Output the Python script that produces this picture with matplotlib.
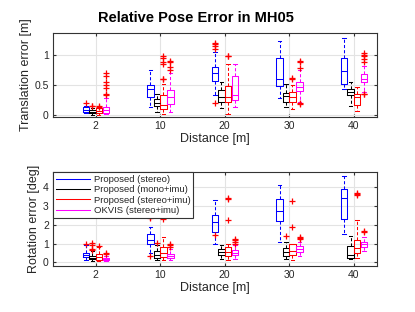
import matplotlib
matplotlib.use("Agg")
import matplotlib.pyplot as plt
import numpy as np

plt.rcParams['font.family'] = ['Liberation Sans', 'DejaVu Sans']
plt.rcParams['text.color'] = '#262626'
plt.rcParams['axes.labelcolor'] = '#262626'
plt.rcParams['xtick.labelcolor'] = '#262626'
plt.rcParams['ytick.labelcolor'] = '#262626'

distances = ["2", "10", "20", "30", "40"]
methods = ["Proposed (stereo)", "Proposed (mono+imu)", "Proposed (stereo+imu)", "OKVIS (stereo+imu)"]
colors = ["#0000ff", "#000000", "#ff0000", "#ff00ff"]

# translation error [m]: per method, per distance
trans_q1 = [[0.06, 0.31, 0.57, 0.48, 0.52],
            [0.04, 0.15, 0.22, 0.22, 0.33],
            [0.04, 0.10, 0.22, 0.22, 0.17],
            [0.04, 0.19, 0.25, 0.40, 0.55]]
trans_med = [[0.09, 0.43, 0.70, 0.60, 0.74],
             [0.06, 0.20, 0.30, 0.32, 0.39],
             [0.07, 0.17, 0.30, 0.30, 0.31],
             [0.09, 0.31, 0.33, 0.47, 0.60]]
trans_q3 = [[0.13, 0.50, 0.80, 0.96, 0.96],
            [0.08, 0.27, 0.42, 0.37, 0.44],
            [0.12, 0.33, 0.48, 0.38, 0.35],
            [0.14, 0.42, 0.66, 0.55, 0.68]]
trans_lo = [[0.04, 0.14, 0.33, 0.28, 0.44],
            [0.01, 0.05, 0.12, 0.14, 0.16],
            [0.01, 0.02, 0.02, 0.10, 0.07],
            [0.02, 0.06, 0.14, 0.22, 0.38]]
trans_hi = [[0.15, 0.75, 1.05, 1.24, 1.28],
            [0.12, 0.35, 0.55, 0.52, 0.56],
            [0.16, 0.52, 0.85, 0.50, 0.47],
            [0.28, 0.70, 0.86, 0.75, 0.82]]
trans_out = [[[0.21], [], [0.21, 1.10, 1.15, 1.18, 1.20], [], []],
             [[0.15, 0.16], [], [], [], []],
             [[0.14, 0.16], [0.60, 0.61, 0.85, 0.88, 0.95, 0.98], [0.98, 0.99], [0.61, 0.62], []],
             [[0.33, 0.35, 0.45, 0.50, 0.55, 0.65, 0.70], [0.75, 0.80, 0.88, 0.90], [],
              [0.18, 0.20, 0.78, 0.88, 0.90], [0.35, 0.36, 0.88, 0.93, 0.98, 1.00, 1.03]]]

# rotation error [deg]
rot_q1 = [[0.27, 1.00, 1.60, 2.20, 2.30],
          [0.18, 0.25, 0.40, 0.35, 0.25],
          [0.12, 0.30, 0.35, 0.40, 0.50],
          [0.10, 0.22, 0.40, 0.55, 0.80]]
rot_med = [[0.37, 1.20, 2.15, 2.75, 3.45],
           [0.25, 0.40, 0.55, 0.55, 0.40],
           [0.30, 0.50, 0.55, 0.60, 0.75],
           [0.17, 0.35, 0.50, 0.70, 0.95]]
rot_q3 = [[0.52, 1.50, 2.50, 3.40, 3.90],
          [0.35, 0.60, 0.70, 0.75, 0.85],
          [0.45, 0.80, 0.80, 0.95, 1.20],
          [0.22, 0.45, 0.65, 0.85, 1.10]]
rot_lo = [[0.10, 0.50, 0.95, 1.10, 1.50],
          [0.05, 0.10, 0.15, 0.15, 0.15],
          [0.05, 0.10, 0.10, 0.10, 0.25],
          [0.05, 0.10, 0.15, 0.35, 0.60]]
rot_hi = [[0.90, 1.90, 3.30, 4.15, 4.60],
          [0.60, 0.90, 0.90, 1.10, 1.40],
          [0.80, 1.35, 1.00, 1.00, 2.25],
          [0.35, 0.70, 0.90, 1.10, 1.35]]
rot_out = [[[1.00], [0.35, 2.35, 2.40], [1.45], [], []],
           [[0.65, 0.70, 0.90, 1.05], [1.05], [], [1.40], []],
           [[0.85], [2.30], [2.25, 3.40, 3.45], [1.90, 3.25], [3.60, 3.65, 3.70]],
           [[0.45, 0.50], [0.80, 0.90, 0.95], [1.00, 1.10, 1.20, 1.25], [1.25, 1.30, 1.35], [1.60, 1.65]]]

offsets = [-0.15, -0.05, 0.05, 0.16]
width = 0.1
LW = 0.75


def draw(ax, q1, med, q3, lo, hi, out):
    for m in range(4):
        stats = []
        for g in range(5):
            stats.append(dict(q1=q1[m][g], med=med[m][g], q3=q3[m][g],
                              whislo=lo[m][g], whishi=hi[m][g],
                              fliers=out[m][g]))
        pos = [g + 1 + offsets[m] for g in range(5)]
        c = colors[m]
        ax.bxp(stats, positions=pos, widths=width, showfliers=True,
               boxprops=dict(color=c, lw=LW),
               medianprops=dict(color=c, lw=LW),
               whiskerprops=dict(color=c, lw=LW, ls=(0, (3, 2))),
               capprops=dict(color=c, lw=LW),
               capwidths=width * 0.5,
               flierprops=dict(marker='+', markeredgecolor='r', markersize=5,
                               markeredgewidth=0.9, ls='none'),
               manage_ticks=False)
    ax.set_xlim(0.34, 5.36)
    ax.set_xticks(range(1, 6))
    ax.set_xticklabels(distances)
    ax.set_xlabel("Distance [m]", fontsize=9, labelpad=1)
    ax.grid(True, color="#e3e3e3", lw=0.8)
    ax.set_axisbelow(True)
    ax.tick_params(direction='in', top=True, right=True, labelsize=7.5,
                   length=2.5, color="#333333", pad=3)
    for s in ax.spines.values():
        s.set_color("#333333")
        s.set_linewidth(0.8)


fig = plt.figure(figsize=(4.15, 3.12), dpi=100)
ax1 = fig.add_axes([53 / 415, 1 - 117 / 312, 324 / 415, 84 / 312])
ax2 = fig.add_axes([53 / 415, 1 - 266 / 312, 324 / 415, 94 / 312])

draw(ax1, trans_q1, trans_med, trans_q3, trans_lo, trans_hi, trans_out)
ax1.set_ylim(-0.03, 1.37)
ax1.set_yticks([0, 0.5, 1])
ax1.set_yticklabels(["0", "0.5", "1"])
ax1.set_ylabel("Translation error [m]", fontsize=9, labelpad=2)

draw(ax2, rot_q1, rot_med, rot_q3, rot_lo, rot_hi, rot_out)
ax2.set_ylim(-0.2, 4.82)
ax2.set_yticks([0, 1, 2, 3, 4])
ax2.set_ylabel("Rotation error [deg]", fontsize=9, labelpad=2)

handles = [plt.Line2D([], [], color=c, lw=LW) for c in colors]
leg = ax2.legend(handles, methods, loc='upper left', fontsize=6.8,
                 frameon=True, fancybox=False, borderaxespad=0,
                 handlelength=3.6, handletextpad=0.4, labelspacing=0.15,
                 borderpad=0.3)
leg.get_frame().set_edgecolor("#333333")
leg.get_frame().set_linewidth(0.8)
leg.get_frame().set_alpha(1)

fig.text(196 / 415, 1 - 18 / 312, "Relative Pose Error in MH05",
         ha='center', va='center', fontsize=10.5, fontweight='bold',
         color='black')

fig.savefig("out.png", dpi=100)
